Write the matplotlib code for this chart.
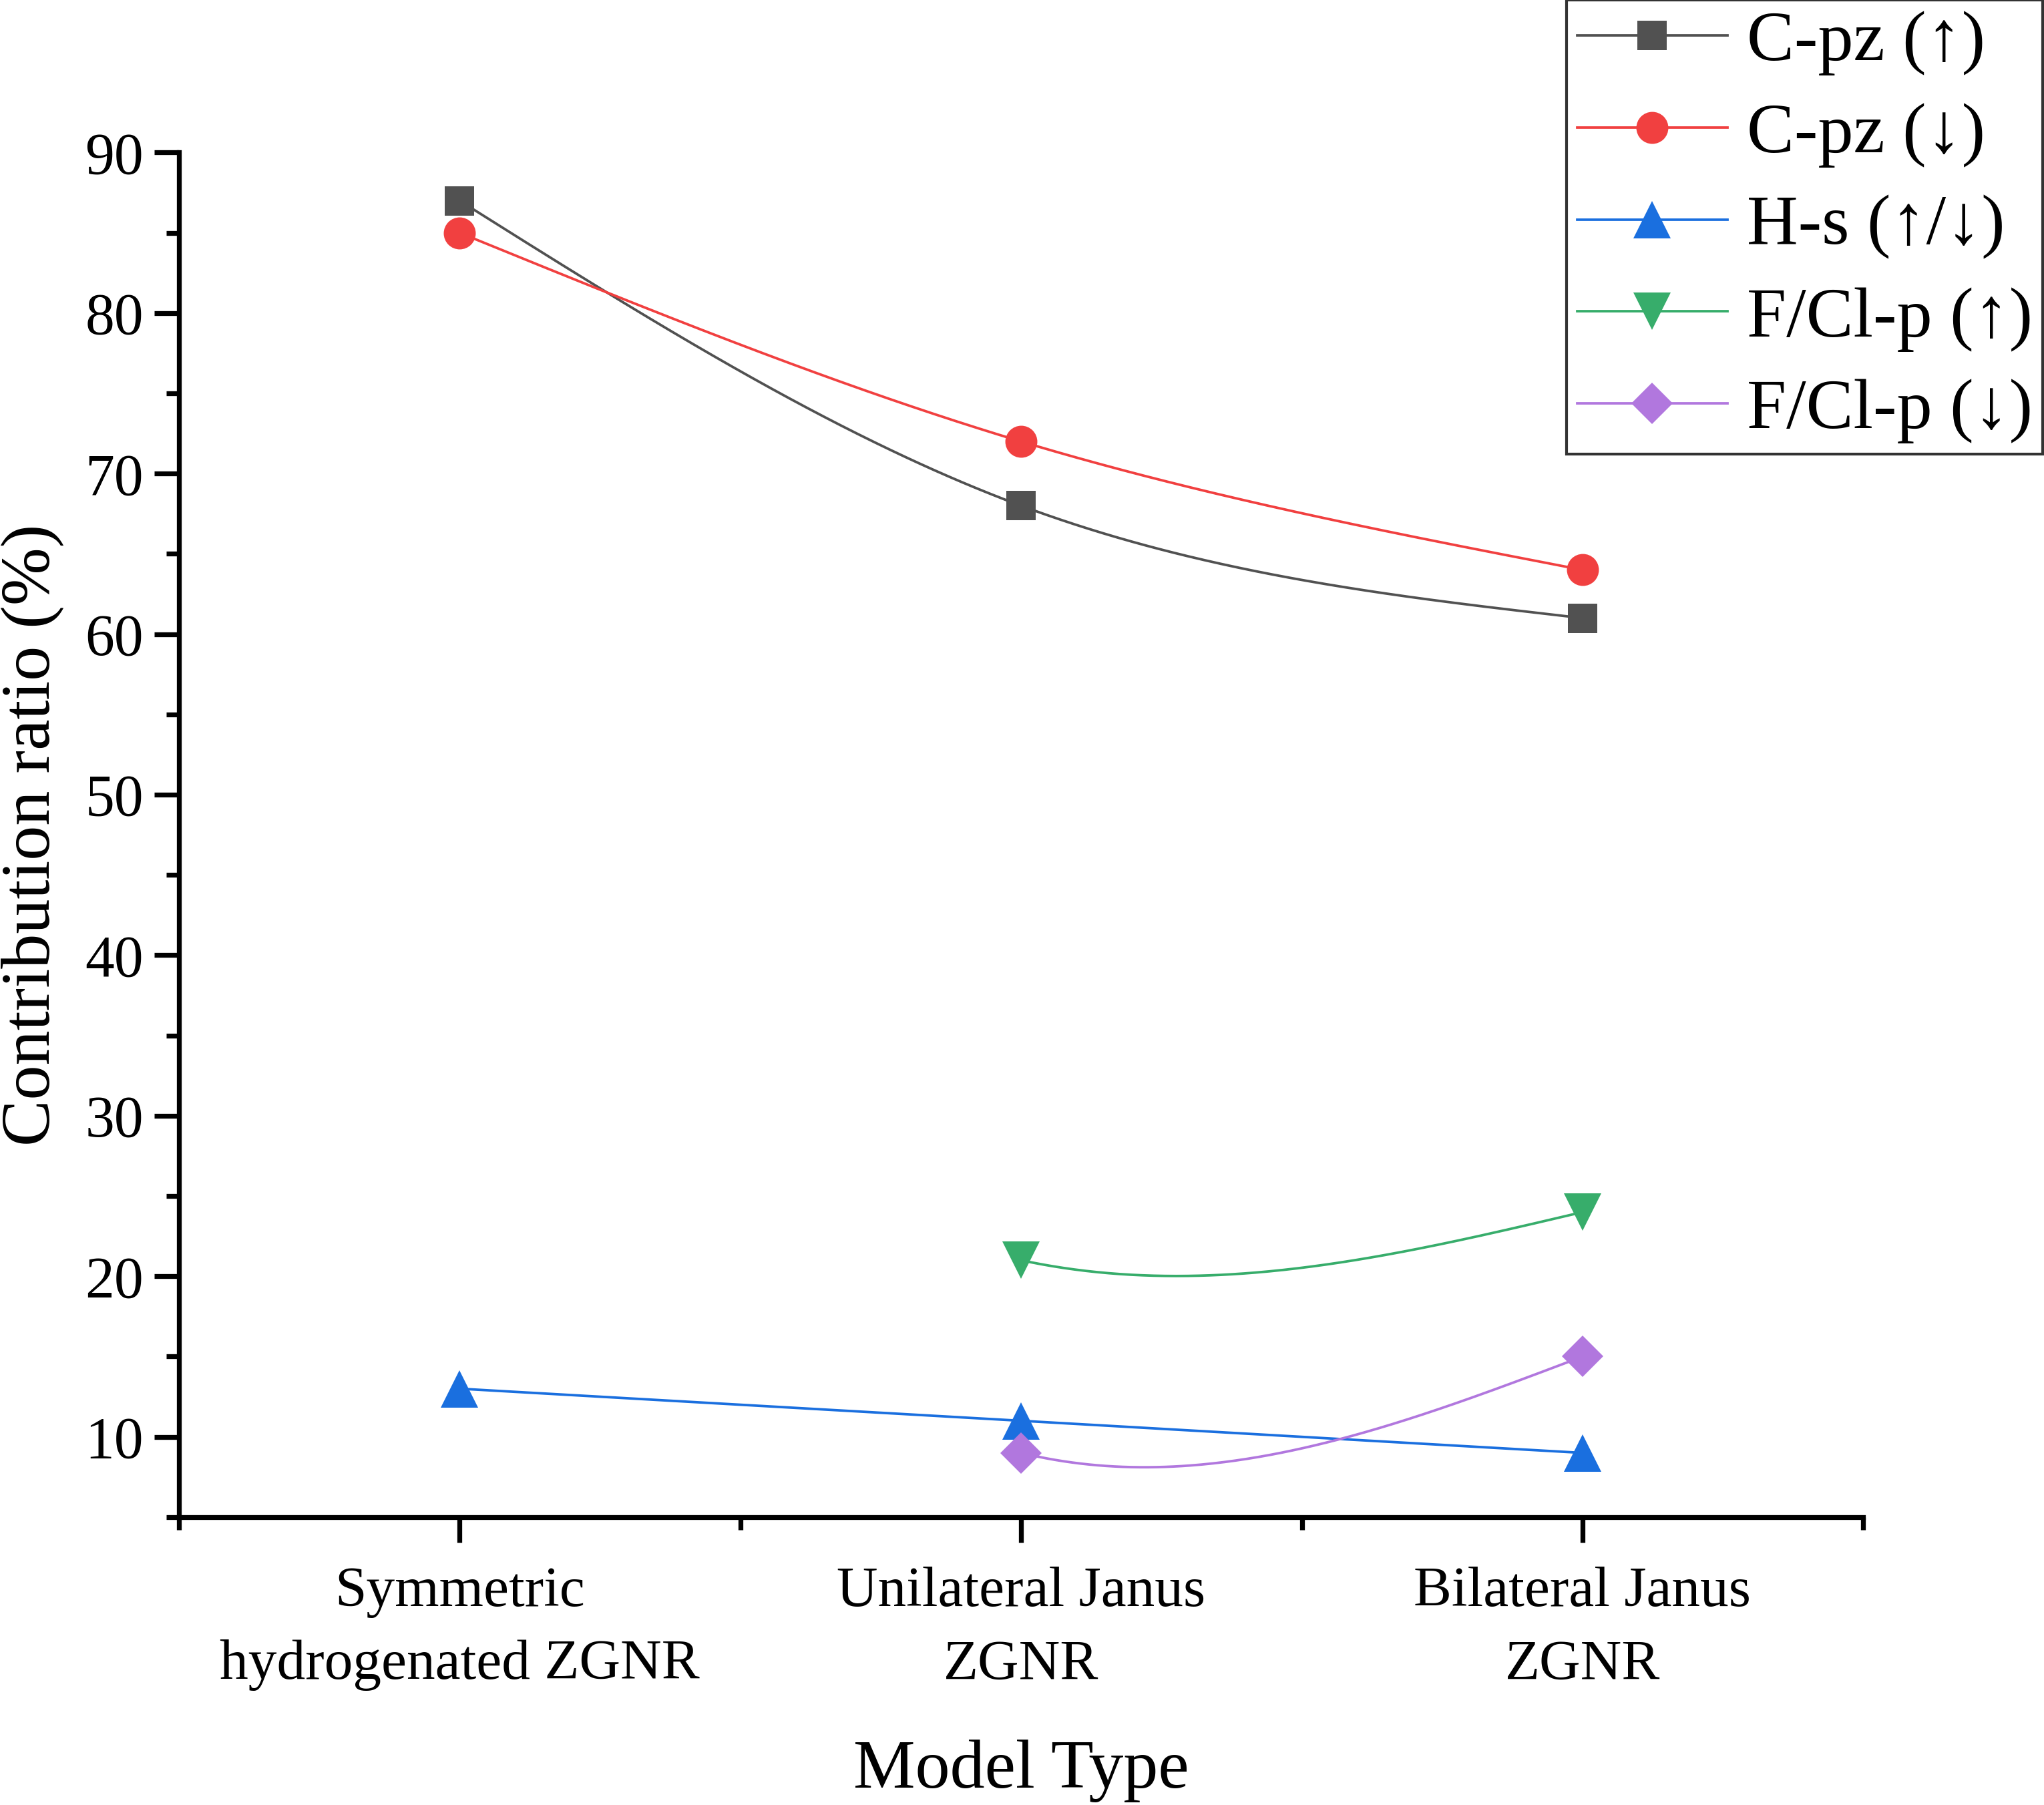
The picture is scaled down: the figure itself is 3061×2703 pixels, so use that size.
import numpy as np
import matplotlib
matplotlib.use("Agg")
import matplotlib.pyplot as plt

plt.rcParams['font.family'] = ['Liberation Serif', 'DejaVu Serif']

# data
categories = ["Symmetric\nhydrogenated ZGNR", "Unilateral Janus\nZGNR", "Bilateral Janus\nZGNR"]
x_pos = [1, 2, 3]
cpz_up = [87, 68, 61]
cpz_dn = [85, 72, 64]
hs_updn = [13, 11, 9]
fclp_up = [np.nan, 21, 24]
fclp_dn = [np.nan, 9, 15]

labels = ["C-pz (\u2191)", "C-pz (\u2193)", "H-s (\u2191/\u2193)", "F/Cl-p (\u2191)", "F/Cl-p (\u2193)"]
colors = ["#515151", "#F14040", "#1A6FDF", "#37AD6B", "#B177DE"]
markers = ["s", "o", "^", "v", "D"]
msizes = [10.5, 11.5, 13.5, 13.5, 10.5]
# start slope of the origin-style spline for the two-point series (None = natural end)
start_slopes = [None, None, None, -7.5, -8.5]


def spline_curve(xs, ys, start_slope=None, n=200):
    xs = np.asarray(xs, float)
    ys = np.asarray(ys, float)
    ok = ~np.isnan(ys)
    xs, ys = xs[ok], ys[ok]
    k = len(xs)
    h = np.diff(xs)
    A = np.zeros((k, k))
    b = np.zeros(k)
    if start_slope is None:
        A[0, 0], A[0, 1] = 2, 1
        b[0] = 3 * (ys[1] - ys[0]) / h[0]
    else:
        A[0, 0] = 1
        b[0] = start_slope
    for i in range(1, k - 1):
        A[i, i - 1] = 1 / h[i - 1]
        A[i, i] = 2 * (1 / h[i - 1] + 1 / h[i])
        A[i, i + 1] = 1 / h[i]
        b[i] = 3 * ((ys[i] - ys[i - 1]) / h[i - 1] ** 2 + (ys[i + 1] - ys[i]) / h[i] ** 2)
    A[-1, -2], A[-1, -1] = 1, 2
    b[-1] = 3 * (ys[-1] - ys[-2]) / h[-1]
    m = np.linalg.solve(A, b)
    cx, cy = [], []
    for i in range(k - 1):
        t = np.linspace(0, 1, n)
        h00 = 2 * t**3 - 3 * t**2 + 1
        h10 = t**3 - 2 * t**2 + t
        h01 = -2 * t**3 + 3 * t**2
        h11 = t**3 - t**2
        cy.append(h00 * ys[i] + h10 * h[i] * m[i] + h01 * ys[i + 1] + h11 * h[i] * m[i + 1])
        cx.append(xs[i] + t * h[i])
    return np.concatenate(cx), np.concatenate(cy), xs, ys


fig = plt.figure(figsize=(3061 / 300, 2703 / 300), dpi=300)
ax = fig.add_axes([0.0875, 0.1595, 0.9116 - 0.0875, 0.9155 - 0.1595])

series = [cpz_up, cpz_dn, hs_updn, fclp_up, fclp_dn]
for ys, lab, c, mk, ms, s0 in zip(series, labels, colors, markers, msizes, start_slopes):
    cx, cy, px, py = spline_curve(x_pos, ys, s0)
    ax.plot(cx, cy, color=c, lw=0.9, zorder=2)
    ax.plot(px, py, ls='none', marker=mk, ms=ms, color=c, mec=c, mew=0, zorder=3)
    # legend proxy
    ax.plot([], [], color=c, lw=0.9, marker=mk, ms=ms, mec=c, mew=0, label=lab)

ax.set_xlim(0.5, 3.5)
ax.set_ylim(5, 90)
ax.set_xticks(x_pos)
ax.set_xticklabels(categories, fontsize=20.5, linespacing=1.55)
ax.set_xticks([0.5, 1.5, 2.5, 3.5], minor=True)
ax.set_yticks(np.arange(10, 91, 10))
ax.set_yticks(np.arange(5, 90, 10), minor=True)
ax.tick_params(axis='y', labelsize=21)

for side in ['top', 'right']:
    ax.spines[side].set_visible(False)
for side in ['left', 'bottom']:
    ax.spines[side].set_linewidth(1.75)
ax.tick_params(which='major', direction='out', length=9, width=1.75)
ax.tick_params(which='minor', direction='out', length=4.6, width=1.75)
ax.tick_params(axis='x', which='major', pad=8.8)
ax.tick_params(axis='y', which='major', pad=3.6)

ax.set_xlabel("Model Type", fontsize=25)
ax.set_ylabel("Contribution ratio (%)", fontsize=25)
ax.xaxis.set_label_coords(0.5, -0.163)
ax.yaxis.set_label_coords(-0.068, 0.5)

leg = fig.legend(loc='upper right', bbox_to_anchor=(0.9995, 1.0), bbox_transform=fig.transFigure,
                 fontsize=25.5, frameon=True, fancybox=False, borderaxespad=0,
                 handlelength=2.12, handletextpad=0.27, labelspacing=0.38,
                 borderpad=0.15)
leg.get_frame().set_edgecolor('black')
leg.get_frame().set_linewidth(1.0)

fig.savefig("out.png", dpi=300)
